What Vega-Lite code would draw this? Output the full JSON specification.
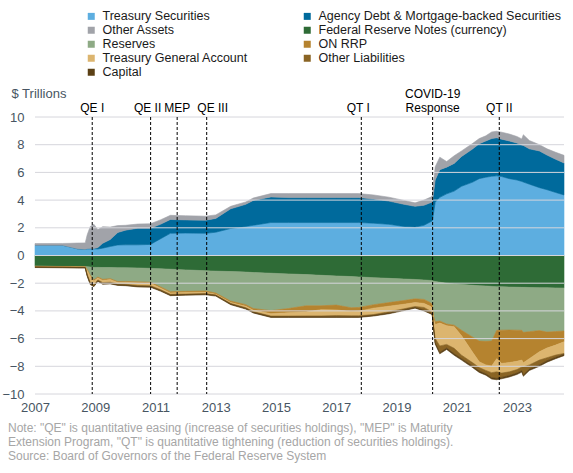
{
  "$schema": "https://vega.github.io/schema/vega-lite/v6.json",
  "width": 529,
  "height": 277,
  "autosize": {"type": "none"},
  "padding": {"left": 35, "top": 117, "right": 9, "bottom": 79},
  "background": "white",
  "config": {
    "font": "Liberation Sans",
    "view": {"stroke": null},
    "axis": {"labelOverlap": false, "labelSeparation": 0}
  },
  "title": {
    "text": [
      "Note: \"QE\" is quantitative easing (increase of securities holdings), \"MEP\" is Maturity",
      "Extension Program, \"QT\" is quantitative tightening (reduction of securities holdings).",
      "Source: Board of Governors of the Federal Reserve System"
    ],
    "orient": "bottom",
    "anchor": "start",
    "frame": "group",
    "dx": -27,
    "offset": 9,
    "fontSize": 12,
    "fontWeight": "normal",
    "color": "#a6a6a6",
    "lineHeight": 14,
    "baseline": "top"
  },
  "datasets": {
    "grid": [
      {"g":-10},{"g":-8},{"g":-6},{"g":-4},{"g":-2},{"g":0},{"g":2},{"g":4},{"g":6},{"g":8},{"g":10}
    ],
    "series": [
      {"key":"ts","name":"Treasury Securities","o":1},
      {"key":"mbs","name":"Agency Debt & Mortgage-backed Securities","o":2},
      {"key":"oa","name":"Other Assets","o":3},
      {"key":"frn","name":"Federal Reserve Notes (currency)","o":4},
      {"key":"res","name":"Reserves","o":5},
      {"key":"rrp","name":"ON RRP","o":6},
      {"key":"tga","name":"Treasury General Account","o":7},
      {"key":"ol","name":"Other Liabilities","o":8},
      {"key":"cap","name":"Capital","o":9}
    ],
    "bs": [
      {"d":"2007-01-01","ts":0.74,"mbs":0,"oa":0.12,"frn":-0.77,"res":-0.01,"rrp":-0.03,"tga":-0.01,"ol":-0.01,"cap":-0.04},
      {"d":"2007-12-01","ts":0.74,"mbs":0,"oa":0.13,"frn":-0.79,"res":-0.01,"rrp":-0.03,"tga":-0.01,"ol":-0.01,"cap":-0.04},
      {"d":"2008-03-01","ts":0.62,"mbs":0,"oa":0.26,"frn":-0.79,"res":-0.01,"rrp":-0.03,"tga":-0.01,"ol":-0.02,"cap":-0.04},
      {"d":"2008-06-01","ts":0.48,"mbs":0,"oa":0.42,"frn":-0.80,"res":-0.01,"rrp":-0.03,"tga":-0.01,"ol":-0.02,"cap":-0.04},
      {"d":"2008-09-01","ts":0.46,"mbs":0,"oa":0.45,"frn":-0.80,"res":-0.01,"rrp":-0.03,"tga":-0.01,"ol":-0.02,"cap":-0.04},
      {"d":"2008-09-25","ts":0.48,"mbs":0.01,"oa":1.0,"frn":-0.81,"res":-0.2,"rrp":-0.05,"tga":-0.3,"ol":-0.08,"cap":-0.05},
      {"d":"2008-11-01","ts":0.48,"mbs":0.02,"oa":1.6,"frn":-0.83,"res":-0.6,"rrp":-0.07,"tga":-0.45,"ol":-0.1,"cap":-0.05},
      {"d":"2008-12-15","ts":0.48,"mbs":0.02,"oa":1.75,"frn":-0.86,"res":-0.9,"rrp":-0.08,"tga":-0.27,"ol":-0.09,"cap":-0.05},
      {"d":"2009-02-01","ts":0.47,"mbs":0.1,"oa":1.3,"frn":-0.86,"res":-0.7,"rrp":-0.07,"tga":-0.13,"ol":-0.06,"cap":-0.05},
      {"d":"2009-04-01","ts":0.53,"mbs":0.35,"oa":1.2,"frn":-0.87,"res":-0.85,"rrp":-0.08,"tga":-0.15,"ol":-0.08,"cap":-0.05},
      {"d":"2009-07-01","ts":0.65,"mbs":0.5,"oa":0.9,"frn":-0.87,"res":-0.8,"rrp":-0.07,"tga":-0.19,"ol":-0.07,"cap":-0.05},
      {"d":"2009-10-01","ts":0.76,"mbs":0.9,"oa":0.5,"frn":-0.88,"res":-1.0,"rrp":-0.07,"tga":-0.1,"ol":-0.06,"cap":-0.05},
      {"d":"2010-01-01","ts":0.77,"mbs":1.06,"oa":0.35,"frn":-0.89,"res":-0.98,"rrp":-0.08,"tga":-0.12,"ol":-0.06,"cap":-0.05},
      {"d":"2010-06-01","ts":0.77,"mbs":1.2,"oa":0.3,"frn":-0.9,"res":-1.0,"rrp":-0.08,"tga":-0.18,"ol":-0.06,"cap":-0.05},
      {"d":"2010-11-01","ts":0.8,"mbs":1.17,"oa":0.32,"frn":-0.93,"res":-1.0,"rrp":-0.08,"tga":-0.17,"ol":-0.06,"cap":-0.05},
      {"d":"2011-03-01","ts":1.2,"mbs":1.05,"oa":0.32,"frn":-0.96,"res":-1.3,"rrp":-0.08,"tga":-0.12,"ol":-0.06,"cap":-0.05},
      {"d":"2011-07-01","ts":1.6,"mbs":1.0,"oa":0.3,"frn":-0.99,"res":-1.62,"rrp":-0.09,"tga":-0.1,"ol":-0.05,"cap":-0.05},
      {"d":"2012-01-01","ts":1.62,"mbs":0.95,"oa":0.3,"frn":-1.04,"res":-1.55,"rrp":-0.09,"tga":-0.1,"ol":-0.04,"cap":-0.05},
      {"d":"2012-09-01","ts":1.6,"mbs":0.95,"oa":0.29,"frn":-1.1,"res":-1.46,"rrp":-0.09,"tga":-0.1,"ol":-0.04,"cap":-0.05},
      {"d":"2013-01-01","ts":1.68,"mbs":1.0,"oa":0.25,"frn":-1.13,"res":-1.58,"rrp":-0.09,"tga":-0.05,"ol":-0.03,"cap":-0.05},
      {"d":"2013-07-01","ts":1.95,"mbs":1.42,"oa":0.18,"frn":-1.16,"res":-2.13,"rrp":-0.1,"tga":-0.07,"ol":-0.04,"cap":-0.05},
      {"d":"2014-01-01","ts":2.1,"mbs":1.6,"oa":0.17,"frn":-1.2,"res":-2.35,"rrp":-0.12,"tga":-0.1,"ol":-0.05,"cap":-0.05},
      {"d":"2014-04-01","ts":2.18,"mbs":1.8,"oa":0.17,"frn":-1.23,"res":-2.6,"rrp":-0.12,"tga":-0.1,"ol":-0.05,"cap":-0.05},
      {"d":"2014-11-01","ts":2.38,"mbs":1.85,"oa":0.24,"frn":-1.28,"res":-2.7,"rrp":-0.22,"tga":-0.17,"ol":-0.05,"cap":-0.05},
      {"d":"2015-06-01","ts":2.38,"mbs":1.8,"oa":0.29,"frn":-1.33,"res":-2.5,"rrp":-0.3,"tga":-0.24,"ol":-0.05,"cap":-0.05},
      {"d":"2016-01-01","ts":2.38,"mbs":1.8,"oa":0.29,"frn":-1.38,"res":-2.25,"rrp":-0.45,"tga":-0.28,"ol":-0.06,"cap":-0.05},
      {"d":"2016-07-01","ts":2.38,"mbs":1.8,"oa":0.29,"frn":-1.43,"res":-2.2,"rrp":-0.28,"tga":-0.45,"ol":-0.06,"cap":-0.05},
      {"d":"2017-01-01","ts":2.38,"mbs":1.8,"oa":0.29,"frn":-1.48,"res":-2.1,"rrp":-0.35,"tga":-0.4,"ol":-0.09,"cap":-0.05},
      {"d":"2017-07-01","ts":2.38,"mbs":1.8,"oa":0.29,"frn":-1.52,"res":-2.25,"rrp":-0.28,"tga":-0.3,"ol":-0.07,"cap":-0.05},
      {"d":"2017-10-01","ts":2.38,"mbs":1.8,"oa":0.29,"frn":-1.55,"res":-2.2,"rrp":-0.27,"tga":-0.33,"ol":-0.07,"cap":-0.05},
      {"d":"2018-04-01","ts":2.33,"mbs":1.75,"oa":0.29,"frn":-1.6,"res":-1.95,"rrp":-0.25,"tga":-0.46,"ol":-0.06,"cap":-0.05},
      {"d":"2018-10-01","ts":2.25,"mbs":1.68,"oa":0.28,"frn":-1.65,"res":-1.75,"rrp":-0.26,"tga":-0.4,"ol":-0.1,"cap":-0.05},
      {"d":"2019-04-01","ts":2.1,"mbs":1.6,"oa":0.28,"frn":-1.7,"res":-1.55,"rrp":-0.27,"tga":-0.33,"ol":-0.08,"cap":-0.05},
      {"d":"2019-08-15","ts":2.05,"mbs":1.5,"oa":0.25,"frn":-1.73,"res":-1.4,"rrp":-0.27,"tga":-0.28,"ol":-0.07,"cap":-0.05},
      {"d":"2019-12-01","ts":2.18,"mbs":1.45,"oa":0.37,"frn":-1.77,"res":-1.4,"rrp":-0.29,"tga":-0.29,"ol":-0.2,"cap":-0.05},
      {"d":"2020-02-15","ts":2.42,"mbs":1.38,"oa":0.4,"frn":-1.8,"res":-1.6,"rrp":-0.27,"tga":-0.33,"ol":-0.15,"cap":-0.05},
      {"d":"2020-03-10","ts":2.5,"mbs":1.37,"oa":0.4,"frn":-1.82,"res":-1.7,"rrp":-0.27,"tga":-0.33,"ol":-0.1,"cap":-0.05},
      {"d":"2020-03-25","ts":3.0,"mbs":1.45,"oa":0.8,"frn":-1.85,"res":-2.5,"rrp":-0.22,"tga":-0.5,"ol":-0.08,"cap":-0.1},
      {"d":"2020-04-15","ts":3.85,"mbs":1.6,"oa":0.95,"frn":-1.88,"res":-2.9,"rrp":-0.2,"tga":-1.0,"ol":-0.32,"cap":-0.1},
      {"d":"2020-06-10","ts":4.2,"mbs":2.0,"oa":0.9,"frn":-1.93,"res":-2.8,"rrp":-0.15,"tga":-1.65,"ol":-0.47,"cap":-0.1},
      {"d":"2020-09-01","ts":4.45,"mbs":1.93,"oa":0.4,"frn":-2.0,"res":-2.95,"rrp":-0.12,"tga":-1.35,"ol":-0.26,"cap":-0.1},
      {"d":"2020-12-01","ts":4.65,"mbs":2.0,"oa":0.55,"frn":-2.05,"res":-2.98,"rrp":-0.12,"tga":-1.55,"ol":-0.4,"cap":-0.1},
      {"d":"2021-03-01","ts":5.0,"mbs":2.15,"oa":0.4,"frn":-2.1,"res":-3.3,"rrp":-0.4,"tga":-1.4,"ol":-0.25,"cap":-0.1},
      {"d":"2021-07-15","ts":5.3,"mbs":2.4,"oa":0.4,"frn":-2.15,"res":-3.75,"rrp":-1.1,"tga":-0.75,"ol":-0.25,"cap":-0.1},
      {"d":"2021-10-01","ts":5.55,"mbs":2.52,"oa":0.37,"frn":-2.18,"res":-4.0,"rrp":-1.5,"tga":-0.41,"ol":-0.25,"cap":-0.1},
      {"d":"2021-12-20","ts":5.65,"mbs":2.62,"oa":0.37,"frn":-2.2,"res":-4.0,"rrp":-1.7,"tga":-0.4,"ol":-0.24,"cap":-0.1},
      {"d":"2022-03-01","ts":5.72,"mbs":2.72,"oa":0.48,"frn":-2.23,"res":-3.95,"rrp":-1.8,"tga":-0.48,"ol":-0.36,"cap":-0.1},
      {"d":"2022-05-01","ts":5.75,"mbs":2.75,"oa":0.47,"frn":-2.25,"res":-3.15,"rrp":-2.05,"tga":-0.95,"ol":-0.47,"cap":-0.1},
      {"d":"2022-07-01","ts":5.7,"mbs":2.7,"oa":0.5,"frn":-2.26,"res":-3.13,"rrp":-2.4,"tga":-0.7,"ol":-0.31,"cap":-0.1},
      {"d":"2022-10-01","ts":5.55,"mbs":2.72,"oa":0.5,"frn":-2.28,"res":-3.1,"rrp":-2.35,"tga":-0.67,"ol":-0.27,"cap":-0.1},
      {"d":"2023-01-01","ts":5.45,"mbs":2.67,"oa":0.47,"frn":-2.29,"res":-3.1,"rrp":-2.25,"tga":-0.6,"ol":-0.25,"cap":-0.1},
      {"d":"2023-03-01","ts":5.35,"mbs":2.62,"oa":0.45,"frn":-2.3,"res":-3.1,"rrp":-2.15,"tga":-0.5,"ol":-0.27,"cap":-0.1},
      {"d":"2023-03-20","ts":5.3,"mbs":2.65,"oa":0.77,"frn":-2.3,"res":-3.25,"rrp":-2.2,"tga":-0.3,"ol":-0.57,"cap":-0.1},
      {"d":"2023-06-01","ts":5.15,"mbs":2.55,"oa":0.6,"frn":-2.31,"res":-3.19,"rrp":-1.95,"tga":-0.45,"ol":-0.3,"cap":-0.1},
      {"d":"2023-10-01","ts":4.9,"mbs":2.65,"oa":0.45,"frn":-2.32,"res":-3.1,"rrp":-1.53,"tga":-0.6,"ol":-0.35,"cap":-0.1},
      {"d":"2024-01-01","ts":4.75,"mbs":2.5,"oa":0.45,"frn":-2.33,"res":-3.2,"rrp":-1.15,"tga":-0.7,"ol":-0.22,"cap":-0.1},
      {"d":"2024-04-15","ts":4.55,"mbs":2.4,"oa":0.5,"frn":-2.34,"res":-3.15,"rrp":-0.98,"tga":-0.72,"ol":-0.16,"cap":-0.1},
      {"d":"2024-07-25","ts":4.37,"mbs":2.31,"oa":0.55,"frn":-2.35,"res":-3.1,"rrp":-0.78,"tga":-0.84,"ol":-0.06,"cap":-0.1}
    ],
    "events": [
      {"d":"2008-11-25","e":"QE I"},
      {"d":"2010-11-03","e":"QE II"},
      {"d":"2011-09-21","e":"MEP"},
      {"d":"2012-09-13","e":"QE III"},
      {"d":"2017-11-01","e":"QT I"},
      {"d":"2020-03-15","e":"COVID-19\nResponse"},
      {"d":"2022-06-01","e":"QT II"}
    ]
  },
  "layer": [
    {
      "data": {"name": "bs"},
      "transform": [
        {"fold": ["ts","mbs","oa","frn","res","rrp","tga","ol","cap"], "as": ["key","v"]},
        {"lookup": "key", "from": {"data": {"name": "series"}, "key": "key", "fields": ["name", "o"]}}
      ],
      "mark": {"type": "area", "interpolate": "linear", "strokeWidth": 0.6},
      "encoding": {
        "x": {
          "field": "d", "type": "temporal",
          "scale": {"domain": ["2007-01-01", "2024-07-25"]},
          "axis": {
            "title": null,
            "format": "%Y",
            "values": [{"year":2007},{"year":2009},{"year":2011},{"year":2013},{"year":2015},{"year":2017},{"year":2019},{"year":2021},{"year":2023}],
            "ticks": false,
            "domain": false,
            "grid": false,
            "labelFontSize": 13,
            "labelColor": "#475562",
            "labelPadding": 7,
            "labelFlush": false,
            "labelOverlap": false
          }
        },
        "y": {
          "field": "v", "type": "quantitative", "stack": "zero",
          "scale": {"domain": [-10, 10], "nice": false},
          "axis": {
            "title": "$ Trillions",
            "titleAngle": 0,
            "titleAlign": "left",
            "titleBaseline": "middle",
            "titleX": -24,
            "titleY": -24,
            "titleFontSize": 13,
            "titleFontWeight": "normal",
            "titleColor": "#475562",
            "tickCount": 11,
            "format": "d",
            "labelOverlap": false,
            "ticks": false,
            "domain": false,
            "grid": false,
            "labelFontSize": 13,
            "labelColor": "#475562",
            "labelPadding": 11
          }
        },
        "order": {"field": "o", "type": "quantitative"},
        "color": {
          "field": "name", "type": "nominal",
          "scale": {
            "domain": ["Treasury Securities","Other Assets","Reserves","Treasury General Account","Capital","Agency Debt & Mortgage-backed Securities","Federal Reserve Notes (currency)","ON RRP","Other Liabilities"],
            "range": ["#5daee0","#a1a3a9","#8eaa85","#dcb56f","#5b4015","#006a9c","#2e6b36","#b5832f","#8a6424"]
          },
          "legend": {
            "orient": "none",
            "legendX": 50,
            "legendY": -107,
            "columns": 2,
            "title": null,
            "padding": 0,
            "symbolType": "square",
            "symbolSize": 49,
            "symbolStrokeWidth": 0,
            "labelFontSize": 12.5,
            "labelOffset": 5,
            "labelColor": "#1a1a1a",
            "labelLimit": 400,
            "columnPadding": 53,
            "rowPadding": 1
          }
        },
        "stroke": {
          "field": "name", "type": "nominal",
          "scale": {
            "domain": ["Treasury Securities","Other Assets","Reserves","Treasury General Account","Capital","Agency Debt & Mortgage-backed Securities","Federal Reserve Notes (currency)","ON RRP","Other Liabilities"],
            "range": ["#5daee0","#a1a3a9","#8eaa85","#dcb56f","#5b4015","#006a9c","#2e6b36","#b5832f","#8a6424"]
          },
          "legend": null
        }
      }
    },
    {
      "data": {"name": "grid"},
      "mark": {"type": "rule", "color": "#d6d6dc", "strokeWidth": 1},
      "encoding": {"y": {"field": "g", "type": "quantitative", "title": "$ Trillions"}}
    },
    {
      "mark": {"type": "rule", "color": "#e4e6ea", "strokeWidth": 1},
      "encoding": {"y": {"datum": 0}}
    },
    {
      "data": {"name": "events"},
      "mark": {"type": "rule", "color": "#000000", "strokeWidth": 1, "strokeDash": [3, 2]},
      "encoding": {
        "x": {"field": "d", "type": "temporal"},
        "y": {"datum": 10},
        "y2": {"datum": -10}
      }
    },
    {
      "data": {"name": "events"},
      "transform": [{"filter": "indexof(['QE I','MEP','QT II'], datum.e) >= 0"}],
      "mark": {"type": "text", "align": "center", "baseline": "bottom", "fontSize": 12, "color": "#000000"},
      "encoding": {
        "x": {"field": "d", "type": "temporal"},
        "y": {"datum": 10.12},
        "text": {"field": "e"}
      }
    },
    {
      "data": {"name": "events"},
      "transform": [{"filter": "indexof(['QE II','QT I'], datum.e) >= 0"}],
      "mark": {"type": "text", "align": "center", "baseline": "bottom", "fontSize": 12, "color": "#000000", "dx": -3},
      "encoding": {
        "x": {"field": "d", "type": "temporal"},
        "y": {"datum": 10.12},
        "text": {"field": "e"}
      }
    },
    {
      "data": {"name": "events"},
      "transform": [{"filter": "datum.e === 'QE III'"}],
      "mark": {"type": "text", "align": "center", "baseline": "bottom", "fontSize": 12, "color": "#000000", "dx": 6},
      "encoding": {
        "x": {"field": "d", "type": "temporal"},
        "y": {"datum": 10.12},
        "text": {"field": "e"}
      }
    },
    {
      "data": {"name": "events"},
      "transform": [{"filter": "indexof(datum.e, 'COVID') === 0"}],
      "mark": {"type": "text", "align": "center", "baseline": "bottom", "fontSize": 12, "color": "#000000", "lineBreak": "\n", "lineHeight": 14, "dy": -14},
      "encoding": {
        "x": {"field": "d", "type": "temporal"},
        "y": {"datum": 10.12},
        "text": {"field": "e"}
      }
    }
  ]
}
